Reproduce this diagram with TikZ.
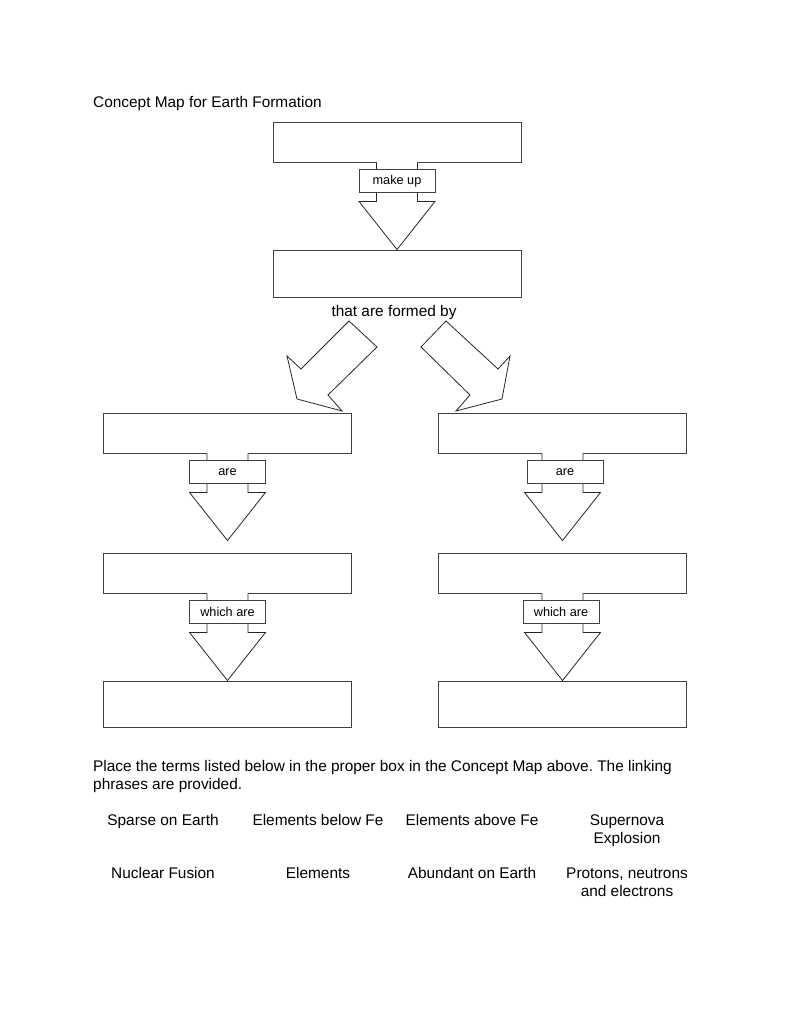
\documentclass[tikz,border=0pt]{standalone}
\usepackage{fontspec}
\setmainfont{Liberation Sans}
\usetikzlibrary{positioning,calc}
\frenchspacing
\tikzstyle{concept}=[draw=black!75, line width=0.9pt, minimum width=248pt, inner sep=0pt]
\tikzstyle{link}=[draw=black!75, line width=0.9pt, fill=white, minimum width=76pt, minimum height=23pt, inner sep=0pt, font=\fontsize{12.7}{15}\selectfont]
\tikzstyle{blockarrow}=[draw=black!85, line width=0.8pt]
\tikzstyle{term}=[font=\fontsize{15.4}{18}\selectfont, align=center, inner sep=0pt]
% block arrow hanging under a box, ending at a tip
\newcommand{\linkarrow}[2]{%
  \fill[white] ($(#1.south)+(-20.5,-1)$) -- ($(#1.south)+(-20.5,39)$) -- ($(#1.south)+(-38,39)$) -- (#2)
    -- ($(#1.south)+(38,39)$) -- ($(#1.south)+(20.5,39)$) -- ($(#1.south)+(20.5,-1)$) -- cycle;
  \draw[blockarrow] ($(#1.south)+(-20.5,0)$) -- ($(#1.south)+(-20.5,39)$) -- ($(#1.south)+(-38,39)$) -- (#2)
    -- ($(#1.south)+(38,39)$) -- ($(#1.south)+(20.5,39)$) -- ($(#1.south)+(20.5,0)$);}
\begin{document}
\begin{tikzpicture}[x=1pt, y=-1pt]
    \fill[white] (0,0) rectangle (791,1024);
    \useasboundingbox (0,0) rectangle (791,1024);

    \node[term, anchor=west] (title) at (93,103.5) {Concept Map for Earth Formation};

    \foreach \pos/\name/\h in {
                            {(397,142)/top/40},
                            {(397,273.5)/mid/47},
                            {(227.5,433)/left1/40},
                            {(227.5,573)/left2/40},
                            {(227.5,704)/left3/46},
                            {(562.5,433)/right1/40},
                            {(562.5,573)/right2/40},
                            {(562.5,704)/right3/46}}
        \node[concept, minimum height=\h pt] (\name) at \pos {};

    \node[term] (formed) at (394,312.5) {that are formed by};

    % Connect boxes with block arrows and put the linking words on them
    \coordinate (tipl) at ($(left2.north)+(0,-12)$);
    \coordinate (tipr) at ($(right2.north)+(0,-12)$);
    \linkarrow{top}{mid.north}
    \linkarrow{left1}{tipl}
    \linkarrow{left2}{left3.north}
    \linkarrow{right1}{tipr}
    \linkarrow{right2}{right3.north}
    \node[link, below=7pt of top] (makeup) {make up};
    \node[link, below=7pt of left1] (arel) {are};
    \node[link, below=7pt of left2] (whichl) {which are};
    \node[link, below=7pt of right1, xshift=2.5pt] (arer) {are};
    \node[link, below=7pt of right2, xshift=-1.5pt] (whichr) {which are};

    \draw[blockarrow] (349,321) -- (377,347) -- (328,395) -- (342,411) -- (297,399) -- (287,356) -- (301,369) -- cycle;
    \draw[blockarrow] (446,321) -- (421,347) -- (470,395) -- (456,411) -- (502,399) -- (510,356) -- (498,369) -- cycle;

    \node[term, anchor=north west, align=left] (place) at (93,760)
        {Place the terms listed below in the proper box in the Concept Map above. The linking\\phrases are provided.};

    \foreach \x/\y/\name/\txt in {
                            163/814.5/t1/{Sparse on Earth},
                            318/814.5/t2/{Elements below Fe},
                            472/814.5/t3/{Elements above Fe},
                            627/814.5/t4/{Supernova\\Explosion},
                            163/867.5/t5/{Nuclear Fusion},
                            318/867.5/t6/{Elements},
                            472/867.5/t7/{Abundant on Earth},
                            627/867.5/t8/{Protons, neutrons\\and electrons}}
        \node[term, anchor=north] (\name) at (\x,\y) {\txt};

\end{tikzpicture}
\end{document}
